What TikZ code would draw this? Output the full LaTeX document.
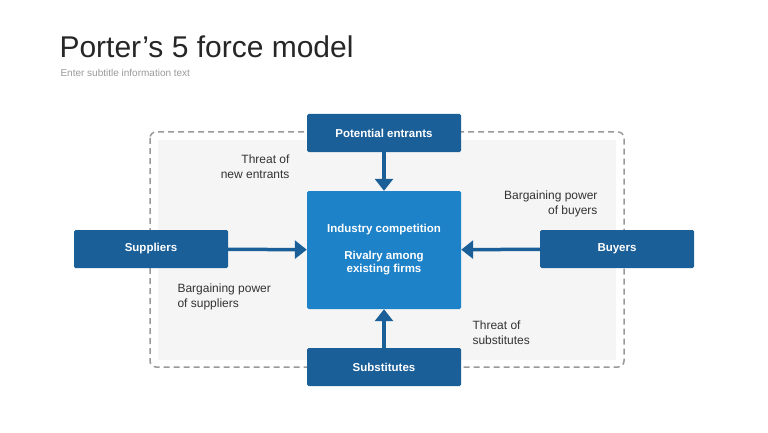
\documentclass[tikz,border=0pt]{standalone}
\usepackage{fontspec}
\setmainfont{Liberation Sans}
\usetikzlibrary{arrows.meta}
\definecolor{dblue}{HTML}{1B5F98}
\definecolor{cblue}{HTML}{1E82C8}
\begin{document}
\begin{tikzpicture}[x=1pt,y=-1pt,
 box/.style={fill=dblue,text=white,font=\fontsize{11.5}{13}\selectfont\bfseries,minimum width=154pt,minimum height=38pt,inner sep=0pt,rounded corners=1.5pt},
 lab/.style={font=\fontsize{12}{15}\selectfont,text=black!80,align=left},
 arr/.style={draw=dblue,line width=3.5pt,-{Triangle[length=12pt,width=18pt]}}]
\useasboundingbox (0,0) rectangle (768,433);
\node[anchor=base west,font=\fontsize{30}{32}\selectfont,text=black!85] (title) at (56,58) {Porter’s 5 force model};
\node[anchor=base west,font=\fontsize{10}{12}\selectfont,text=black!40] (sub) at (57,77) {Enter subtitle information text};
\fill[black!4] (158,140) rectangle (616,360);
\draw[black!40,dashed,line width=1.5pt,dash pattern=on 6pt off 4pt,rounded corners=6pt] (150,132) rectangle (624,367);
\node[box] (pe) at (384,133) {Potential entrants};
\node[box,fill=cblue,minimum height=118pt,align=center] (ic) at (384,250) {Industry competition\\[14pt]Rivalry among\\existing firms};
\node[box] (su) at (151,249) {Suppliers};
\node[box] (bu) at (617,249) {Buyers};
\node[box] (sb) at (384,367) {Substitutes};
\draw[arr] (pe) -- (ic);
\draw[arr] (su) -- (ic);
\draw[arr] (bu) -- (ic);
\draw[arr] (sb) -- (ic);
\node[lab,align=right,anchor=east] (l1) at (293,167) {Threat of\\new entrants};
\node[lab,align=right,anchor=east] (l2) at (601,204) {Bargaining power\\of buyers};
\node[lab,anchor=west] (l3) at (174,297) {Bargaining power\\of suppliers};
\node[lab,anchor=west] (l4) at (469,333) {Threat of\\substitutes};
\end{tikzpicture}
\end{document}
